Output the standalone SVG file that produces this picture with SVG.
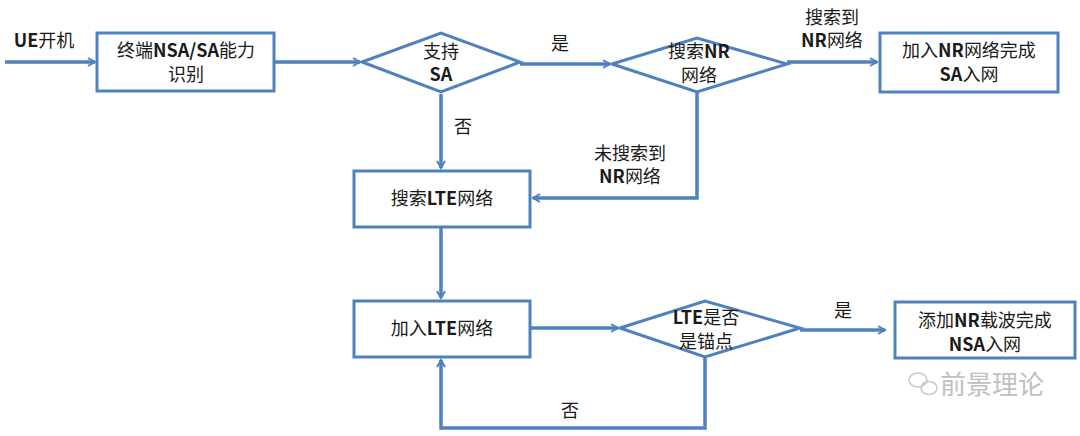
<svg xmlns="http://www.w3.org/2000/svg" width="1080" height="436" viewBox="0 0 1080 436">
<style>
.n{fill:#fff;stroke:#4f81bd;stroke-width:3}
.c{fill:none;stroke:#4f81bd;stroke-width:3.5}
text{font-family:"Noto Sans CJK SC","Liberation Sans",sans-serif;font-size:18px;fill:#1a1a1a;text-anchor:middle}
.b{font-weight:bold}
</style>
<defs><marker id="a" markerWidth="10" markerHeight="10" refX="8" refY="5" orient="auto" markerUnits="userSpaceOnUse"><path d="M1,1 L8,5 L1,9" fill="none" stroke="#4f81bd" stroke-width="2"/></marker></defs>
<rect width="1080" height="436" fill="#fff"/>
<g id="connectors">
<path class="c" d="M5,62 H95" marker-end="url(#a)"/>
<path class="c" d="M274,62 H360" marker-end="url(#a)"/>
<path class="c" d="M520,64 H610" marker-end="url(#a)"/>
<path class="c" d="M787,62 H877" marker-end="url(#a)"/>
<path class="c" d="M441,94 V168" marker-end="url(#a)"/>
<path class="c" d="M697,92 V198 H533" marker-end="url(#a)"/>
<path class="c" d="M441,227 V298" marker-end="url(#a)"/>
<path class="c" d="M530,328 H618" marker-end="url(#a)"/>
<path class="c" d="M800,330 H885" marker-end="url(#a)"/>
<path class="c" d="M705,357 V428 H441 V360" marker-end="url(#a)"/>
<text x="44" y="47"><tspan class="b">UE</tspan>开机</text>
<text x="560" y="50">是</text>
<text x="832" y="24">搜索到</text>
<text x="832" y="47"><tspan class="b">NR</tspan>网络</text>
<text x="463" y="133">否</text>
<text x="630" y="160">未搜索到</text>
<text x="630" y="183"><tspan class="b">NR</tspan>网络</text>
<text x="843" y="317">是</text>
<text x="570" y="417">否</text>
</g>
<g id="n1"><rect class="n" x="97" y="33" width="177" height="58"/><text x="186" y="57">终端<tspan class="b">NSA/SA</tspan>能力</text><text x="186" y="81">识别</text></g>
<g id="n2"><polygon class="n" points="362,62 441,33 520,62 441,92"/><text x="441" y="58">支持</text><text x="441" y="81" class="b">SA</text></g>
<g id="n3"><polygon class="n" points="612,64 697,38 787,64 697,92"/><text x="699" y="58">搜索<tspan class="b">NR</tspan></text><text x="699" y="82">网络</text></g>
<g id="n4"><rect class="n" x="880" y="33" width="178" height="59"/><text x="969" y="57">加入<tspan class="b">NR</tspan>网络完成</text><text x="969" y="81"><tspan class="b">SA</tspan>入网</text></g>
<g id="n5"><rect class="n" x="354" y="171" width="176" height="56"/><text x="442" y="205">搜索<tspan class="b">LTE</tspan>网络</text></g>
<g id="n6"><rect class="n" x="354" y="301" width="176" height="56"/><text x="442" y="335">加入<tspan class="b">LTE</tspan>网络</text></g>
<g id="n7"><polygon class="n" points="620,328 705,301 800,328 705,357"/><text x="706" y="324"><tspan class="b">LTE</tspan>是否</text><text x="706" y="348">是锚点</text></g>
<g id="n8"><rect class="n" x="895" y="302" width="180" height="56"/><text x="985" y="327">添加<tspan class="b">NR</tspan>载波完成</text><text x="985" y="351"><tspan class="b">NSA</tspan>入网</text></g>
<g id="watermark" fill="none" stroke="#c8c8c8" stroke-width="1.5">
<ellipse cx="918" cy="380" rx="9" ry="7"/><ellipse cx="929" cy="388" rx="8" ry="6.5"/>
<text x="992" y="394" style="font-size:26px;fill:#c0c0c0;stroke:none">前景理论</text>
</g>
</svg>
